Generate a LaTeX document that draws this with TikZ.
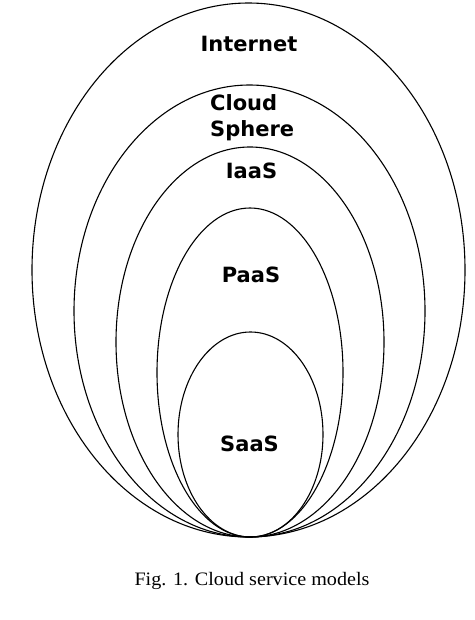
\documentclass[tikz,border=0pt]{standalone}
\usepackage{fontspec}
\setmainfont{Liberation Serif}
\newfontfamily\lblfont{DejaVu Sans}
\tikzset{
  ring/.style={draw=black, line width=1.1pt},
  lbl/.style={font=\lblfont\bfseries\fontsize{21}{26}\selectfont, anchor=base, inner sep=0pt},
  captiontext/.style={font=\fontsize{19}{22}\selectfont, anchor=base, inner sep=0pt, xscale=1.06}
}
\begin{document}
\begin{tikzpicture}[x=1pt,y=-1pt]
\useasboundingbox (0,0) rectangle (474,620);
\fill[white] (0,0) rectangle (474,620);
% nested ellipses, all touching at the bottom point
\draw[ring] (248.5,270) ellipse [x radius=216.5pt, y radius=267pt];
\draw[ring] (249.5,311) ellipse [x radius=175.5pt, y radius=226pt];
\draw[ring] (250,342) ellipse [x radius=134pt, y radius=195pt];
\draw[ring] (250,372.5) ellipse [x radius=93pt, y radius=164.5pt];
\draw[ring] (250.5,434.5) ellipse [x radius=72.5pt, y radius=102.5pt];
% labels
\node[lbl] (internet) at (249,52) {Internet};
\node[lbl, anchor=base west] (cloud) at (210,111) {Cloud};
\node[lbl, anchor=base west] (sphere) at (210,137) {Sphere};
\node[lbl] (iaas) at (251.5,179) {IaaS};
\node[lbl] (paas) at (251,282) {PaaS};
\node[lbl] (saas) at (249.5,451) {SaaS};
\node[captiontext] (caption) at (252,585) {Fig. 1. Cloud service models};
\end{tikzpicture}
\end{document}
